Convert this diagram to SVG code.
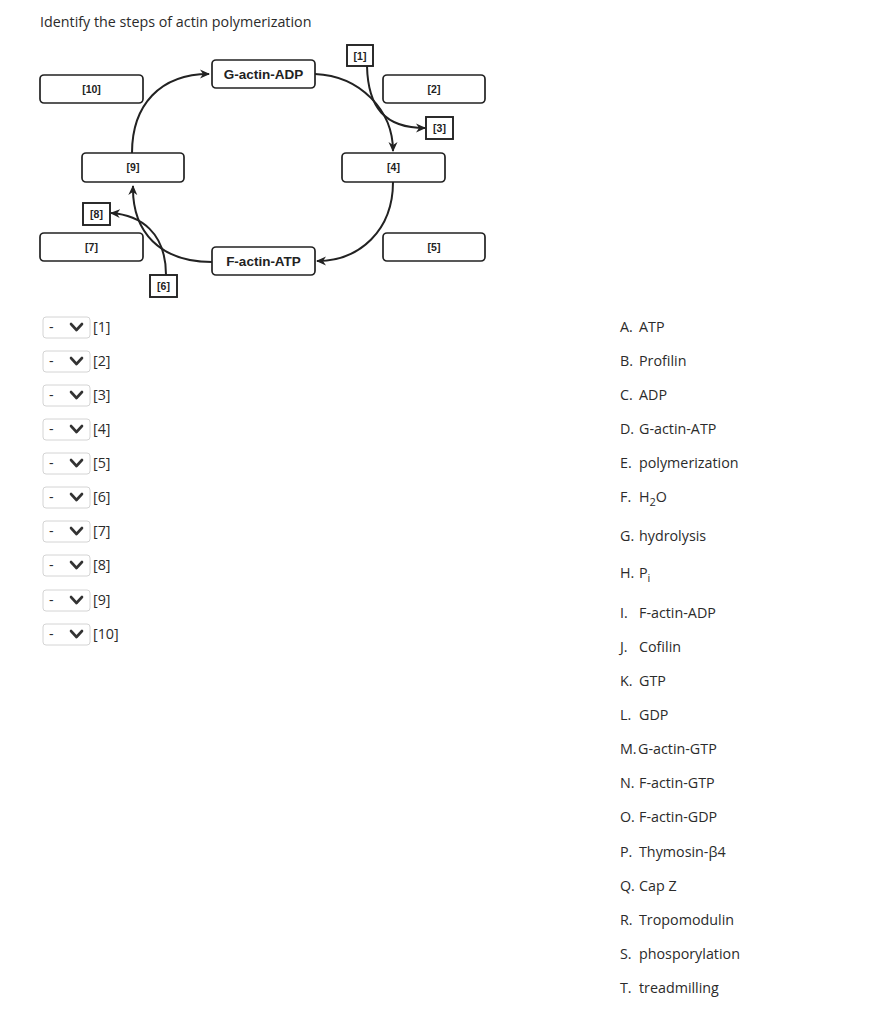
<svg xmlns="http://www.w3.org/2000/svg" width="879" height="1024" viewBox="0 0 879 1024">
<defs>
<style>
.bx{fill:#fff;stroke:#222;stroke-width:1.7}
.sq{fill:#fff;stroke:#222;stroke-width:1.9}
.dl{font-family:"Liberation Sans",Arial,sans-serif;font-weight:bold;fill:#222;text-anchor:middle}
.big{font-size:13.5px}
.sm{font-size:10.5px}
.cn{fill:none;stroke:#222;stroke-width:2}
.t{font-family:"Open Sans","Noto Sans",sans-serif;font-size:14.3px;fill:#2b2b2b}
.dd{fill:#fff;stroke:#d4d4d4;stroke-width:1}
.ch{fill:none;stroke:#333;stroke-width:2.6;stroke-linecap:round;stroke-linejoin:round}
</style>
<marker id="ah" viewBox="0 0 10 10" refX="9" refY="5" markerWidth="10" markerHeight="10" markerUnits="userSpaceOnUse" orient="auto">
<path d="M0,0.5 L10,5 L0,9.5 L3,5 Z" fill="#222"/>
</marker>
</defs>
<rect width="879" height="1024" fill="#fff"/>
<text class="t" x="40" y="27">Identify the steps of actin polymerization</text>

<g id="connectors">
<path class="cn" d="M132,153 C132,105 160,74 209,74" marker-end="url(#ah)"/>
<path class="cn" d="M315,74 C360,76 393,110 393,151" marker-end="url(#ah)"/>
<path class="cn" d="M393,182 C393,230 360,261 317,261" marker-end="url(#ah)"/>
<path class="cn" d="M212,262 C160,262 132,232 133,186" marker-end="url(#ah)"/>
<path class="cn" d="M367,66 C368,108 385,128 425,128" marker-end="url(#ah)"/>
<path class="cn" d="M166,275 C166,232 140,215 111,213" marker-end="url(#ah)"/>
</g>

<g id="n10"><rect class="bx" x="40" y="75" width="103" height="28" rx="4"/><text class="dl sm" x="91.5" y="93">[10]</text></g>
<g id="nGADP"><rect class="bx" x="212" y="60" width="103" height="28" rx="4"/><text class="dl big" x="263.5" y="79">G-actin-ADP</text></g>
<g id="n1"><rect class="sq" x="347" y="45" width="26" height="21"/><text class="dl sm" x="360" y="59.5">[1]</text></g>
<g id="n2"><rect class="bx" x="383" y="75" width="102" height="28" rx="4"/><text class="dl sm" x="434" y="93">[2]</text></g>
<g id="n3"><rect class="sq" x="426" y="117" width="27" height="22"/><text class="dl sm" x="439.5" y="131.5">[3]</text></g>
<g id="n9"><rect class="bx" x="82" y="153" width="102" height="29" rx="4"/><text class="dl sm" x="133" y="171">[9]</text></g>
<g id="n4"><rect class="bx" x="342" y="153" width="103" height="29" rx="4"/><text class="dl sm" x="393.5" y="171">[4]</text></g>
<g id="n8"><rect class="sq" x="83" y="203" width="27" height="22"/><text class="dl sm" x="96.5" y="217.5">[8]</text></g>
<g id="n7"><rect class="bx" x="40" y="233" width="103" height="28" rx="4"/><text class="dl sm" x="91.5" y="251">[7]</text></g>
<g id="n5"><rect class="bx" x="383" y="233" width="102" height="28" rx="4"/><text class="dl sm" x="434" y="251">[5]</text></g>
<g id="nFATP"><rect class="bx" x="212" y="247" width="103" height="28" rx="4"/><text class="dl big" x="263.5" y="266">F-actin-ATP</text></g>
<g id="n6"><rect class="sq" x="150" y="275" width="27" height="22"/><text class="dl sm" x="163.5" y="289.5">[6]</text></g>

<g id="dropdowns">
<g transform="translate(0,0)"><rect class="dd" x="43" y="317" width="47" height="21" rx="3"/><text class="t" x="49" y="332">-</text><polyline class="ch" points="71,324 76.5,330 82,324"/><text class="t" x="93" y="332">[1]</text></g>
<g transform="translate(0,34)"><rect class="dd" x="43" y="317" width="47" height="21" rx="3"/><text class="t" x="49" y="332">-</text><polyline class="ch" points="71,324 76.5,330 82,324"/><text class="t" x="93" y="332">[2]</text></g>
<g transform="translate(0,68)"><rect class="dd" x="43" y="317" width="47" height="21" rx="3"/><text class="t" x="49" y="332">-</text><polyline class="ch" points="71,324 76.5,330 82,324"/><text class="t" x="93" y="332">[3]</text></g>
<g transform="translate(0,102)"><rect class="dd" x="43" y="317" width="47" height="21" rx="3"/><text class="t" x="49" y="332">-</text><polyline class="ch" points="71,324 76.5,330 82,324"/><text class="t" x="93" y="332">[4]</text></g>
<g transform="translate(0,136)"><rect class="dd" x="43" y="317" width="47" height="21" rx="3"/><text class="t" x="49" y="332">-</text><polyline class="ch" points="71,324 76.5,330 82,324"/><text class="t" x="93" y="332">[5]</text></g>
<g transform="translate(0,170)"><rect class="dd" x="43" y="317" width="47" height="21" rx="3"/><text class="t" x="49" y="332">-</text><polyline class="ch" points="71,324 76.5,330 82,324"/><text class="t" x="93" y="332">[6]</text></g>
<g transform="translate(0,204)"><rect class="dd" x="43" y="317" width="47" height="21" rx="3"/><text class="t" x="49" y="332">-</text><polyline class="ch" points="71,324 76.5,330 82,324"/><text class="t" x="93" y="332">[7]</text></g>
<g transform="translate(0,238)"><rect class="dd" x="43" y="317" width="47" height="21" rx="3"/><text class="t" x="49" y="332">-</text><polyline class="ch" points="71,324 76.5,330 82,324"/><text class="t" x="93" y="332">[8]</text></g>
<g transform="translate(0,273)"><rect class="dd" x="43" y="317" width="47" height="21" rx="3"/><text class="t" x="49" y="332">-</text><polyline class="ch" points="71,324 76.5,330 82,324"/><text class="t" x="93" y="332">[9]</text></g>
<g transform="translate(0,307)"><rect class="dd" x="43" y="317" width="47" height="21" rx="3"/><text class="t" x="49" y="332">-</text><polyline class="ch" points="71,324 76.5,330 82,324"/><text class="t" x="93" y="332">[10]</text></g>
</g>

<g id="options">
<text class="t" x="620" y="332">A.</text><text class="t" x="639" y="332">ATP</text>
<text class="t" x="620" y="366">B.</text><text class="t" x="639" y="366">Profilin</text>
<text class="t" x="620" y="400">C.</text><text class="t" x="639" y="400">ADP</text>
<text class="t" x="620" y="434">D.</text><text class="t" x="639" y="434">G-actin-ATP</text>
<text class="t" x="620" y="468">E.</text><text class="t" x="639" y="468">polymerization</text>
<text class="t" x="620" y="502">F.</text><text class="t" x="639" y="502">H<tspan font-size="11" dy="4">2</tspan><tspan dy="-4">O</tspan></text>
<text class="t" x="620" y="541">G.</text><text class="t" x="639" y="541">hydrolysis</text>
<text class="t" x="620" y="578">H.</text><text class="t" x="639" y="578">P<tspan font-size="11" dy="4">i</tspan></text>
<text class="t" x="620" y="618">I.</text><text class="t" x="639" y="618">F-actin-ADP</text>
<text class="t" x="620" y="652">J.</text><text class="t" x="639" y="652">Cofilin</text>
<text class="t" x="620" y="686">K.</text><text class="t" x="639" y="686">GTP</text>
<text class="t" x="620" y="720">L.</text><text class="t" x="639" y="720">GDP</text>
<text class="t" x="620" y="754">M.</text><text class="t" x="638" y="754">G-actin-GTP</text>
<text class="t" x="620" y="788">N.</text><text class="t" x="639" y="788">F-actin-GTP</text>
<text class="t" x="620" y="822">O.</text><text class="t" x="639" y="822">F-actin-GDP</text>
<text class="t" x="620" y="857">P.</text><text class="t" x="639" y="857">Thymosin-β4</text>
<text class="t" x="620" y="891">Q.</text><text class="t" x="639" y="891">Cap Z</text>
<text class="t" x="620" y="925">R.</text><text class="t" x="639" y="925">Tropomodulin</text>
<text class="t" x="620" y="959">S.</text><text class="t" x="639" y="959">phosporylation</text>
<text class="t" x="620" y="993">T.</text><text class="t" x="639" y="993">treadmilling</text>
</g>
</svg>
